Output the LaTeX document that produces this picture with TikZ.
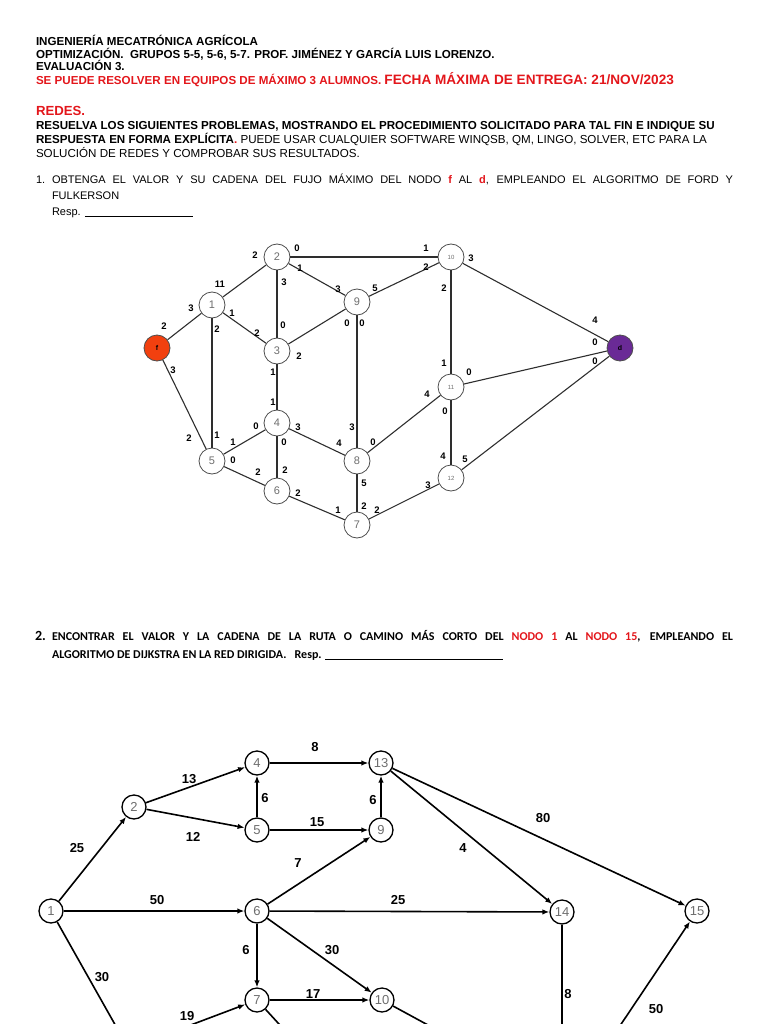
\documentclass[tikz,border=0pt]{standalone}
\usepackage{fontspec}
\setmainfont{Liberation Sans}
\newfontfamily\calibfont{Carlito}
\usetikzlibrary{arrows.meta}
\definecolor{AlertRed}{HTML}{E3161B}
\definecolor{SourceRed}{HTML}{F2400F}
\definecolor{SinkPurple}{HTML}{6A2A96}
\definecolor{EdgeGray}{HTML}{2E2E2E}
\definecolor{NodeText}{HTML}{6E6E6E}

\begin{document}
\begin{tikzpicture}[x=1pt, y=-1pt,
    txt/.style={anchor=base west, inner sep=0pt, outer sep=0pt},
    bnode/.style={circle, draw=EdgeGray!85, line width=0.8pt, fill=white, minimum size=26pt,
      inner sep=0pt, text=NodeText, font=\fontsize{11}{12}\selectfont},
    snode/.style={bnode, font=\fontsize{6}{7}\selectfont},
    flow/.style={draw=EdgeGray, line width=1.1pt},
    capv/.style={inner sep=0pt, font=\bfseries\fontsize{9.5}{10}\selectfont},
    dnode/.style={circle, draw=black, line width=1.3pt, fill=white, minimum size=24pt,
      inner sep=0pt, text=NodeText, font=\fontsize{13}{13}\selectfont},
    arc/.style={draw=black, line width=1.6pt, -{Latex[length=7pt,width=5.5pt]}},
    wgt/.style={inner sep=0pt, font=\bfseries\fontsize{13}{13}\selectfont}]
  \useasboundingbox (0,0) rectangle (768,1024);
  \clip (0,0) rectangle (768,1024);

  % encabezado
  \node[txt, font=\bfseries\fontsize{11.6}{14}\selectfont] (hd1) at (36,46) {INGENIERÍA MECATRÓNICA AGRÍCOLA};
  \node[txt, font=\bfseries\fontsize{11.6}{14}\selectfont] (hd2) at (36,58.5) {OPTIMIZACIÓN.\ \ GRUPOS 5-5, 5-6, 5-7. PROF. JIMÉNEZ Y GARCÍA LUIS LORENZO.};
  \node[txt, font=\bfseries\fontsize{11.6}{14}\selectfont] (hd3) at (36,71) {EVALUACIÓN 3.};
  \node[txt, text=AlertRed, font=\bfseries\fontsize{11.6}{14}\selectfont] (hd4) at (36,85)
    {SE PUEDE RESOLVER EN EQUIPOS DE MÁXIMO 3 ALUMNOS. {\fontsize{13.6}{15}\selectfont FECHA MÁXIMA DE ENTREGA: 21/NOV/2023}};
  \node[txt, text=AlertRed, font=\bfseries\fontsize{13.2}{15}\selectfont] (redes) at (36,116) {REDES.};
  \node[txt, font=\bfseries\fontsize{11.6}{14}\selectfont] (ins1) at (36,130)
    {RESUELVA LOS SIGUIENTES PROBLEMAS, MOSTRANDO EL PROCEDIMIENTO SOLICITADO PARA TAL FIN E INDIQUE SU};
  \node[txt, font=\fontsize{11.6}{14}\selectfont] (ins2) at (36,143.5)
    {{\bfseries RESPUESTA EN FORMA EXPLÍCITA\textcolor{AlertRed}{.}} PUEDE USAR CUALQUIER SOFTWARE WINQSB, QM, LINGO, SOLVER, ETC PARA LA};
  \node[txt, font=\fontsize{11.6}{14}\selectfont] (ins3) at (36,157.5) {SOLUCIÓN DE REDES Y COMPROBAR SUS RESULTADOS.};

  % problema 1
  \node[txt, font=\fontsize{11}{13}\selectfont] (p1n) at (36,183.5) {1.};
  \node[txt, font=\fontsize{11}{13}\selectfont] (p1a) at (52,183.5)
    {\makebox[681pt][s]{OBTENGA EL VALOR Y SU CADENA DEL FUJO MÁXIMO DEL NODO \textcolor{AlertRed}{\bfseries f} AL \textcolor{AlertRed}{\bfseries d}, EMPLEANDO EL ALGORITMO DE FORD Y}};
  \node[txt, font=\fontsize{11}{13}\selectfont] (p1b) at (52,199.5) {FULKERSON};
  \node[txt, font=\fontsize{11}{13}\selectfont] (p1c) at (52,215) {Resp. \rule[-1.5pt]{108pt}{0.6pt}};

  % red de flujo
  \node[bnode, fill=SourceRed, text=black, font=\bfseries\fontsize{7}{8}\selectfont] (f) at (157,348) {f};
  \node[bnode, fill=SinkPurple, text=black, font=\bfseries\fontsize{7}{8}\selectfont] (d) at (620,348) {d};
  \node[bnode] (n1) at (212,305) {1};
  \node[bnode] (n2) at (277,257) {2};
  \node[bnode] (n3) at (277,351) {3};
  \node[bnode] (n4) at (277,423) {4};
  \node[bnode] (n5) at (212,461) {5};
  \node[bnode] (n6) at (277,491) {6};
  \node[bnode] (n7) at (357,525) {7};
  \node[bnode] (n8) at (357,461) {8};
  \node[bnode] (n9) at (357,302) {9};
  \node[snode] (n10) at (451,257) {10};
  \node[snode] (n11) at (451,387) {11};
  \node[snode] (n12) at (451,478) {12};

  \foreach \a/\b in {f/n1, f/n5, n1/n2, n1/n3, n1/n5, n2/n3, n2/n9, n2/n10, n3/n9, n3/n4,
      n9/n10, n9/n8, n10/n11, n10/d, n11/d, n11/n8, n12/d, n4/n5, n4/n6, n4/n8,
      n5/n6, n6/n7, n8/n7, n7/n12}
    \draw[flow] (\a) -- (\b);
  \draw[flow, line width=1.7pt] (n11) -- (n12);

  % capacidades
  \foreach \x/\y/\t [count=\i] in {255/255/2, 297/248/0, 220/284/11, 300/268/1, 284/282/3,
      338/289/3, 375/288/5, 191/308/3, 232/313/1, 217/329/2, 164/326/2, 283/325/0,
      257/333/2, 347/323/0, 362/323/0, 299/356/2, 173/370/3, 273/372/1,
      426/248/1, 471/258/3, 426/267/2, 444/288/2, 595/320/4, 595/342/0, 595/361/0,
      444/363/1, 469/372/0,
      273/402/1, 256/426/0, 298/427/3, 284/442/0, 189/438/2, 217/435/1, 233/442/1,
      352/427/3, 339/443/4, 373/442/0, 233/460/0, 258/472/2, 285/470/2, 364/483/5,
      298/493/2, 338/510/1, 364/506/2, 377/510/2,
      427/394/4, 445/411/0, 443/456/4, 465/459/5, 428/485/3}
    \node[capv] (c\i) at (\x,\y) {\t};

  % problema 2
  \node[txt, font=\calibfont\bfseries\fontsize{14}{16}\selectfont] (p2n) at (35,640) {2.};
  \node[txt, font=\calibfont\bfseries\fontsize{12}{14}\selectfont] (p2a) at (52,640)
    {\makebox[681pt][s]{ENCONTRAR EL VALOR Y LA CADENA DE LA RUTA O CAMINO MÁS CORTO DEL \textcolor{AlertRed}{NODO 1} AL \textcolor{AlertRed}{NODO 15}, EMPLEANDO EL}};
  \node[txt, font=\calibfont\bfseries\fontsize{12}{14}\selectfont] (p2b) at (52,658.5)
    {ALGORITMO DE DIJKSTRA EN LA RED DIRIGIDA.\ \ \ Resp. \rule[-1.5pt]{178pt}{0.8pt}};

  % red dirigida
  \node[dnode] (r1) at (51,911) {1};
  \node[dnode] (r2) at (134,807) {2};
  \node[dnode] (r4) at (257,763) {4};
  \node[dnode] (r5) at (257,830) {5};
  \node[dnode] (r6) at (257,911) {6};
  \node[dnode] (r7) at (257,1000) {7};
  \node[dnode] (r9) at (381,830) {9};
  \node[dnode] (r10) at (382,1000) {10};
  \node[dnode] (r13) at (381,763) {13};
  \node[dnode] (r14) at (562,912) {14};
  \node[dnode] (r15) at (697,911) {15};
  \coordinate (q1) at (135,1060);
  \coordinate (q2) at (151,1040);
  \coordinate (q3) at (300,1047);
  \coordinate (q4) at (450,1037);
  \coordinate (q5) at (562,1060);
  \coordinate (q6) at (597,1060);

  \foreach \a/\b in {r1/r2, r2/r4, r2/r5, r5/r4, r4/r13, r5/r9, r9/r13, r13/r14, r13/r15,
      r1/r6, r6/r9, r6/r14, r6/r7, r6/r10, r7/r10, r1/q1, q2/r7, r7/q3, r10/q4, r14/q5, q6/r15}
    \draw[arc] (\a) -- (\b);

  \foreach \x/\y/\t [count=\i] in {189/779/13, 265/798/6, 315/747/8, 373/800/6, 317/822/15,
      193/837/12, 77/848/25, 298/863/7, 543/818/80, 463/848/4, 157/900/50, 398/900/25,
      246/950/6, 332/950/30, 102/977/30, 313/994/17, 187/1016/19, 568/994/8, 656/1009/50}
    \node[wgt] (w\i) at (\x,\y) {\t};
\end{tikzpicture}
\end{document}
